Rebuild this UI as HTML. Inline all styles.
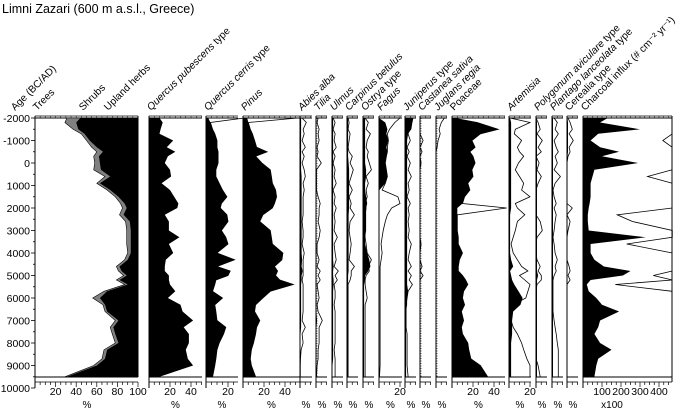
<!DOCTYPE html>
<html><head><meta charset="utf-8"><style>
html,body{margin:0;padding:0;background:#fff;}
svg{display:block;font-family:"Liberation Sans",Arial,sans-serif;}
</style></head><body>
<svg id="chart" width="685" height="411" viewBox="0 0 685 411" xmlns="http://www.w3.org/2000/svg">
<text x="2" y="13" font-size="12.5">Limni Zazari (600 m a.s.l., Greece)</text>
<g id="g"></g>
</svg>
<script>
const ages=[-2000,-1800,-1500,-1300,-1000,-700,-500,-300,0,300,600,900,1200,1500,1800,2000,2300,2600,3000,3300,3600,4000,4300,4600,4800,5000,5200,5400,5700,6000,6300,6600,7000,7300,7600,8000,8300,8700,9000,9500];
const ageTicks=[-2000,-1000,0,1000,2000,3000,4000,5000,6000,7000,8000,9000,10000];
const trees=[31,29,37,45,50,55,60,57,58,57,68,60,70,78,83,85,82,88,89,89,89,90,87,79,81,86,79,87,67,56,66,68,78,73,75,78,67,65,57,29];
const treesShrubs=[44,40,42,48,53,60,66,62,63,64,73,63,73,81,87,89,86,92,93,93,93,93,90,82,84,89,82,90,70,63,68,70,81,76,78,81,70,68,60,31];
const qpub=[10,13,11,10,23,17,25,18,15,20,21,12,20,24,28,27,15,19,19,29,19,23,16,15,15,19,19,20,25,18,30,32,42,33,38,38,35,37,42,10];
const qcer=[2,4,6,8,10,10,11,11,11,9,9,12,15,19,14,13,19,20,14,18,20,10,26,10,22,20,9,8,6,15,8,9,10,18,16,12,10,9,8,6];
const qcerLine=[35,4,6,8,10,10,11,11,11,9,9,12,15,19,14,13,19,20,14,18,20,10,26,10,22,20,9,8,6,15,8,9,10,18,16,12,10,9,8,6];
const pinus=[4,5,7,9,11,13,23,12,18,26,27,28,31,32,30,28,19,16,26,27,28,38,37,30,33,31,35,48,26,19,12,11,16,13,12,10,8,7,8,12];
const pinusLine=[52,5,7,9,11,13,23,12,18,26,27,28,31,32,30,28,19,16,26,27,28,38,37,30,33,31,35,48,26,19,12,11,16,13,12,10,8,7,8,12];
const abies=[1,1,1,1,1,1,1,1,1,1,1.5,1.5,1.5,1.5,1.5,1.5,1.5,1.5,1.5,1.5,1.5,1.5,2,1.5,2.5,1.5,1.5,1,1,1,1,1,1,1,0.5,0.3,0.2,0.2,0.2,0.2];
const abiesLine=[2,6,3,4,2,5,2,4,2,4,5,3,4,3,3,3,3,2,3,3,2,4,3,3,3,3,2,3,3,3,3,3,2,5,2,3,1,0.5,0.3,0.3];
const tilia=[0.3,0.3,0.3,0.3,0.3,0.3,0.3,0.3,0.3,0.3,0.3,0.3,0.3,0.3,0.3,0.3,0.3,0.3,0.3,0.3,0.3,0.3,0.3,0.3,0.3,0.3,0.3,0.3,0.3,0.3,0.3,0.3,1,0.5,0.3,0.3,0.3,0.3,0.3,0.3];
const tiliaLine=[2,1,3,2,3,1,2,1,5,0.5,0.5,0.5,0.5,2,4,3,3,2,4,3,1,1,3,1,4,2,4,1,2,3,1,2,6,3,3,3,2,2,1,0.5];
const ulmus=[1,1,1,1,1,1,1,1,1,1,1,1,1,1,1,1,1,1,1,1,1,1,1,1.5,1,1,1.5,1.5,1,1,1,1,1,1,1,1,1,1,0.5,0.5];
const ulmusLine=[1,3,1,3,2,4,1,3,1,3,2,4,1,3,2,4,2,3,2,5,2,3,4,2,6,3,5,2,3,3,2,3,3,3,3,3,2,3,3,3];
const carpinus=[1,1,1,1,1,1,1,1,1.5,2,2,2,2,2,2,2,1.5,1.5,1.5,1.5,1.5,1.5,1.5,1.5,1.5,1,1,1,1,1,1,1,1,1,1,1,1,1,1,1];
const carpinusLine=[1,2,1,3,2,1,2,5,3,6,4,2,5,2,4,3,7,3,2,3,4,3,2,7,4,4,3,1,1,1,1,1,1,1,1,1,1,1,1,1];
const ostrya=[2,2,2,2,2,2,2,2,2,3,3,2,2,3,4,3,3,3,3,2,2,4,6,7,5,2,2,1,1,1,1,1,1,1,1,1,1,1,1,1];
const ostryaLine=[2,5,3,7,4,3,5,4,6,8,3,5,3,4,2,3,2,2,2,2,3,4,8,5,6,3,2,2,3,4,2,2,2,2,2,2,2,2,2,2];
const fagus=[0,6,8,7,9,7,8,7,6,7,8,6,0.5,0.5,0.5,0.5,0.5,0.5,0.5,0.5,0.5,0.5,0.5,0.5,0.5,0.3,0,0,0,0,0,0,0,0,0,0,0,0,0,0];
const fagusLine=[20,15,10,8,9,8,8,7,6,7,8,6,3,18,20,12,8,6,4,3,2,3,2,1,1,1,1,1,1,1,1,1,1,1,1,1,1,1,1,0.5];
const juniperus=[8,7,6,3,2,2,2,2,2,2,2,2,2,2,2,2,2,2,2,2,2,2,2,2,2,2,2,2,3,2,2,1,1,1,1,1,1,1,1,1];
const juniperusLine=[3,6,4,3,5,2,4,2,5,3,6,3,4,2,5,3,4,3,4,3,6,4,3,6,3,6,4,7,3,2,1,1,1,1,2,2,2,2,2,3];
const castaneaLine=[0,0,0,0,3,0,2,0,1,0,0,0,0,0,0,0,0,0,0,0,1,0,0,2,0,3,0,0,0,0,0,0,0,0,0,0,0,0,0,0];
const juglansLine=[8,5,3,4,2,1,0,0,0,0,0,0,0,0,0,0,0,0,0,0,0,0,0,0,0,0,0,0,0,0,0,0,0,0,0,0,0,0,0,0];
const poaceae=[1,24,44,27,19,22,17,20,22,19,20,15,17,12,10,5,5,5,5,6,6,10,7,6,6,10,13,15,11,10,12,9,11,9,10,15,16,18,27,34];
const poaceaeLine=[1,24,44,27,19,22,17,20,22,19,20,15,17,12,10,52,5,5,5,6,6,10,7,6,6,10,13,15,11,10,12,9,11,9,10,15,16,18,27,34];
const artemisia=[1,2,2,2,2,2,2,2,2,2,2,2,2,2,2,2,1,1,1,1,1,1,2,4,1,2,3,5,9,13,11,4,3,3,3,2,2,2,2,2];
const artemisiaLine=[1,20,6,5,12,8,10,14,9,6,10,14,12,20,6,8,15,8,6,4,2,4,8,12,18,10,15,20,18,16,4,2,2,4,8,12,14,17,20,20];
const polygonum=[0.5,1,1,1,1,1,1,1,1,1,1,1,1,1,1,1,1,1,1,1,1,1,1,1,1,2,1,1,1,1,1,1,1,1,1,1,1,1,1,1];
const polygonumLine=[0,2,4,1,6,2,5,0,3,1,5,2,0,0,0,0,0,4,6,1,0,0,1,4,2,5,5,1,0,0,0,0,0,0,0,0,0,0,2,4];
const plantago=[1,1,1,1,1,1,1,1,1,1,1,1,1,1,1,1,1,1,1,1,1,1,1,1,1,1,1,1,1,1,1,1,1,1,1,1,1,1,1,1];
const plantagoLine=[2,5,3,6,2,4,6,3,5,2,8,3,1,2,4,2,4,3,2,1,2,3,5,3,4,2,1,1,1,1,1,1,2,3,4,5,6,6,6,6];
const cereal=[0.5,1,1,1,1,1,1,0.5,0.5,0.5,0.5,0.5,0.5,0.5,0.5,0.5,0.5,0.5,0.5,0.5,0.5,0.5,0.5,0.5,0.5,0.5,0.5,0.5,0.5,0.5,0.5,0.5,0.5,0.5,0.5,0.5,0.5,0.5,0.5,0.5];
const cerealLine=[1,3,5,2,6,2,3,1,0,0,0,0,0,0,0,5,0,3,1,0,0,0,0,2,3,1,3,0,0,0,0,0,0,0,0,0,0,0,0,0];
const charcoal=[130,90,300,80,40,90,190,100,290,60,50,40,40,40,35,30,25,25,30,330,40,40,60,110,250,210,40,20,30,70,100,190,90,80,60,90,150,80,70,60];
const charcoalHi=[null,null,null,470,420,470,null,null,null,470,340,470,null,null,null,470,180,260,470,470,230,470,null,null,470,370,470,170,470,null,null,null,null,null,null,null,null,null,null,null];

const svgNS="http://www.w3.org/2000/svg";
const g=document.getElementById('g');
const Y0=118,PX=22.5,FS=10.2;
function yA(a){return Y0+(a+2000)/1000*PX;}
function mk(tag,attrs,parent){const e=document.createElementNS(svgNS,tag);for(const k in attrs)e.setAttribute(k,attrs[k]);(parent||g).appendChild(e);return e;}
function title(parent,x,parts){const t=mk('text',{x:x,y:111,'font-size':FS,transform:'rotate(-45 '+x+' 111)'},parent);
 parts.forEach(([s,it])=>{const ts=mk('tspan',it?{'font-style':'italic'}:{},t);ts.textContent=s;});return t;}

// age axis
const ax=mk('g',{});


mk('line',{x1:35,y1:116,x2:35,y2:388,stroke:'#000','stroke-width':1},ax);
for(let a=-2000;a<=10000;a+=500){mk('line',{x1:a%1000===0?31:33,y1:yA(a),x2:35,y2:yA(a),stroke:'#000','stroke-width':0.8},ax);}
ageTicks.forEach(a=>{const t=mk('text',{x:30,y:yA(a)+4,'font-size':10.5,'text-anchor':'end'},ax);t.textContent=a;});
const at=title(ax,15,[['Age (BC/AD)',false]]);



const panels=[
 {n:'summary',x:35,s:1.03,w:103,ticks:[20,40,60,80,100],minor:5,unit:'%',fills:[],line:null},
 {n:'quercus-pubescens',x:149,s:1.05,w:53,ticks:[20,40],minor:5,fills:[qpub],title:[['Quercus pubescens',1],[' type',0]]},
 {n:'quercus-cerris',x:206,s:1.1,w:32,ticks:[20],minor:5,fills:[qcer],line:qcerLine,title:[['Quercus cerris',1],[' type',0]]},
 {n:'pinus',x:243,s:1.05,w:57,ticks:[20,40],minor:5,fills:[pinus],line:pinusLine,title:[['Pinus',1]]},
 {n:'abies',x:300,s:1.05,w:12,ticks:[],minor:5,fills:[abies],line:abiesLine,title:[['Abies alba',1]]},
 {n:'tilia',x:316,s:1.05,w:11,ticks:[],minor:5,fills:[tilia],line:tiliaLine,title:[['Tilia',1]],dot:1},
 {n:'ulmus',x:332,s:1.05,w:11,ticks:[],minor:5,fills:[ulmus],line:ulmusLine,title:[['Ulmus',1]]},
 {n:'carpinus',x:347,s:1.05,w:11,ticks:[],minor:5,fills:[carpinus],line:carpinusLine,title:[['Carpinus betulus',1]]},
 {n:'ostrya',x:363,s:1.05,w:11,ticks:[],minor:5,fills:[ostrya],line:ostryaLine,title:[['Ostrya',1],[' type',0]]},
 {n:'fagus',x:379,s:1.05,w:23,ticks:[20],minor:5,fills:[fagus],line:fagusLine,title:[['Fagus',1]]},
 {n:'juniperus',x:405,s:1.05,w:11,ticks:[],minor:5,fills:[juniperus],line:juniperusLine,title:[['Juniperus',1],[' type',0]]},
 {n:'castanea',x:420,s:1.05,w:11,ticks:[],minor:5,fills:[],line:castaneaLine,title:[['Castanea sativa',1]],dot:1},
 {n:'juglans',x:436,s:1.05,w:11,ticks:[],minor:5,fills:[],line:juglansLine,title:[['Juglans regia',1]],dot:1},
 {n:'poaceae',x:452,s:1.05,w:53,ticks:[20,40],minor:5,fills:[poaceae],line:poaceaeLine,title:[['Poaceae',0]]},
 {n:'artemisia',x:509,s:1.05,w:22,ticks:[20],minor:5,fills:[artemisia],line:artemisiaLine,title:[['Artemisia',1]]},
 {n:'polygonum',x:536,s:1.05,w:11,ticks:[],minor:5,fills:[polygonum],line:polygonumLine,title:[['Polygonum aviculare',1],[' type',0]]},
 {n:'plantago',x:552,s:1.05,w:11,ticks:[],minor:5,fills:[plantago],line:plantagoLine,title:[['Plantago lanceolata',1],[' type',0]]},
 {n:'cerealia',x:567,s:1.05,w:11,ticks:[],minor:5,fills:[cereal],line:cerealLine,title:[['Cerealia type',0]]},
 {n:'charcoal',x:583,s:0.19,w:89,ticks:[100,200,300,400],minor:25,fills:[charcoal],title:[['Charcoal influx (# cm⁻² yr⁻¹)',0]],unit:'x100'}
];

function fillPath(vals,x0,s,base){
 let d='M'+(base?base(0):x0)+','+yA(ages[0]);
 vals.forEach((v,i)=>{d+=' L'+(x0+Math.max(0,v)*s).toFixed(1)+','+yA(ages[i]).toFixed(1);});
 if(base){for(let i=ages.length-1;i>=0;i--)d+=' L'+base(i).toFixed(1)+','+yA(ages[i]).toFixed(1);}
 else d+=' L'+x0+','+yA(ages[ages.length-1]);
 return d+'Z';
}

panels.forEach(p=>{
 const pg=mk('g',{});
 
 
 const right=p.x+p.w;
 mk('line',{x1:p.x,y1:116,x2:right,y2:116,stroke:'#000','stroke-width':0.8},pg);
 mk('line',{x1:p.x,y1:118,x2:right,y2:118,stroke:'#000','stroke-width':1},pg);
 mk('line',{x1:p.x,y1:377,x2:right,y2:377,stroke:'#000','stroke-width':1},pg);
 mk('line',{x1:p.x,y1:382,x2:right,y2:382,stroke:'#000','stroke-width':0.8},pg);
 for(let v=0;v*p.s<=p.w+0.5;v+=p.minor){const x=p.x+v*p.s;
  mk('line',{x1:x,y1:382,x2:x,y2:(p.ticks.indexOf(v)>=0||v===0)?387:385,stroke:'#000','stroke-width':0.7},pg);
  mk('line',{x1:x,y1:116,x2:x,y2:118,stroke:'#000','stroke-width':0.5},pg);}
 p.ticks.forEach(v=>{const t=mk('text',{x:p.x+v*p.s,y:395,'font-size':10.5,'text-anchor':'middle'},pg);t.textContent=v;});
 if(p.n!=='summary'){mk('line',{x1:p.x,y1:116,x2:p.x,y2:388,stroke:'#000','stroke-width':1},pg);}
 if(p.dot){mk('line',{x1:p.x+1,y1:118,x2:p.x+1,y2:377,stroke:'#000','stroke-width':0.6,'stroke-dasharray':'1,1.5'},pg);}
 const u=mk('text',{x:p.n==='summary'?87:(p.n==='charcoal'?612:p.x+Math.max(6,p.w/2)),y:408,'font-size':10,'text-anchor':'middle'},pg);u.textContent=p.unit||'%';
 if(p.title){const t=title(pg,p.x+2,p.title);
  
  }
 if(p.line){const pts=p.line.map((v,i)=>(p.x+v*p.s).toFixed(1)+','+yA(ages[i]).toFixed(1)).join(' ');
  const l=mk('polyline',{points:pts,fill:'none',stroke:'#000','stroke-width':0.8},pg);
  
  }
 p.fills.forEach(vals=>{const f=mk('path',{d:fillPath(vals,p.x,p.s),fill:'#000'},pg);
  
  });
 if(p.n==='summary'){
  const b=mk('path',{d:fillPath(trees,p.x,p.s,i=>p.x+100*p.s),fill:'#808080',stroke:'#000','stroke-width':0.6},pg);
  
  
  const bl=mk('path',{d:fillPath(treesShrubs,p.x,p.s,i=>p.x+100*p.s),fill:'#000'},pg);
  
  
  mk('line',{x1:p.x+100*p.s,y1:116,x2:p.x+100*p.s,y2:377,stroke:'#000','stroke-width':1},pg);
  [['Trees',37],['Shrubs',83],['Upland herbs',108]].forEach(([s,x])=>{const t=title(pg,x,[[s,0]]);
   
   });
 }
 if(p.n==='charcoal'){
  mk('line',{x1:right,y1:116,x2:right,y2:382,stroke:'#000','stroke-width':1},pg);
  let seg=[];
  const flush=()=>{if(seg.length>1){const l=mk('polyline',{points:seg.join(' '),fill:'none',stroke:'#000','stroke-width':0.8},pg);
   
   }seg=[];};
  charcoalHi.forEach((v,i)=>{if(v===null){flush();}else seg.push((p.x+Math.min(v,470)*p.s).toFixed(1)+','+yA(ages[i]).toFixed(1));});
  flush();
 }
});
</script>
</body></html>
